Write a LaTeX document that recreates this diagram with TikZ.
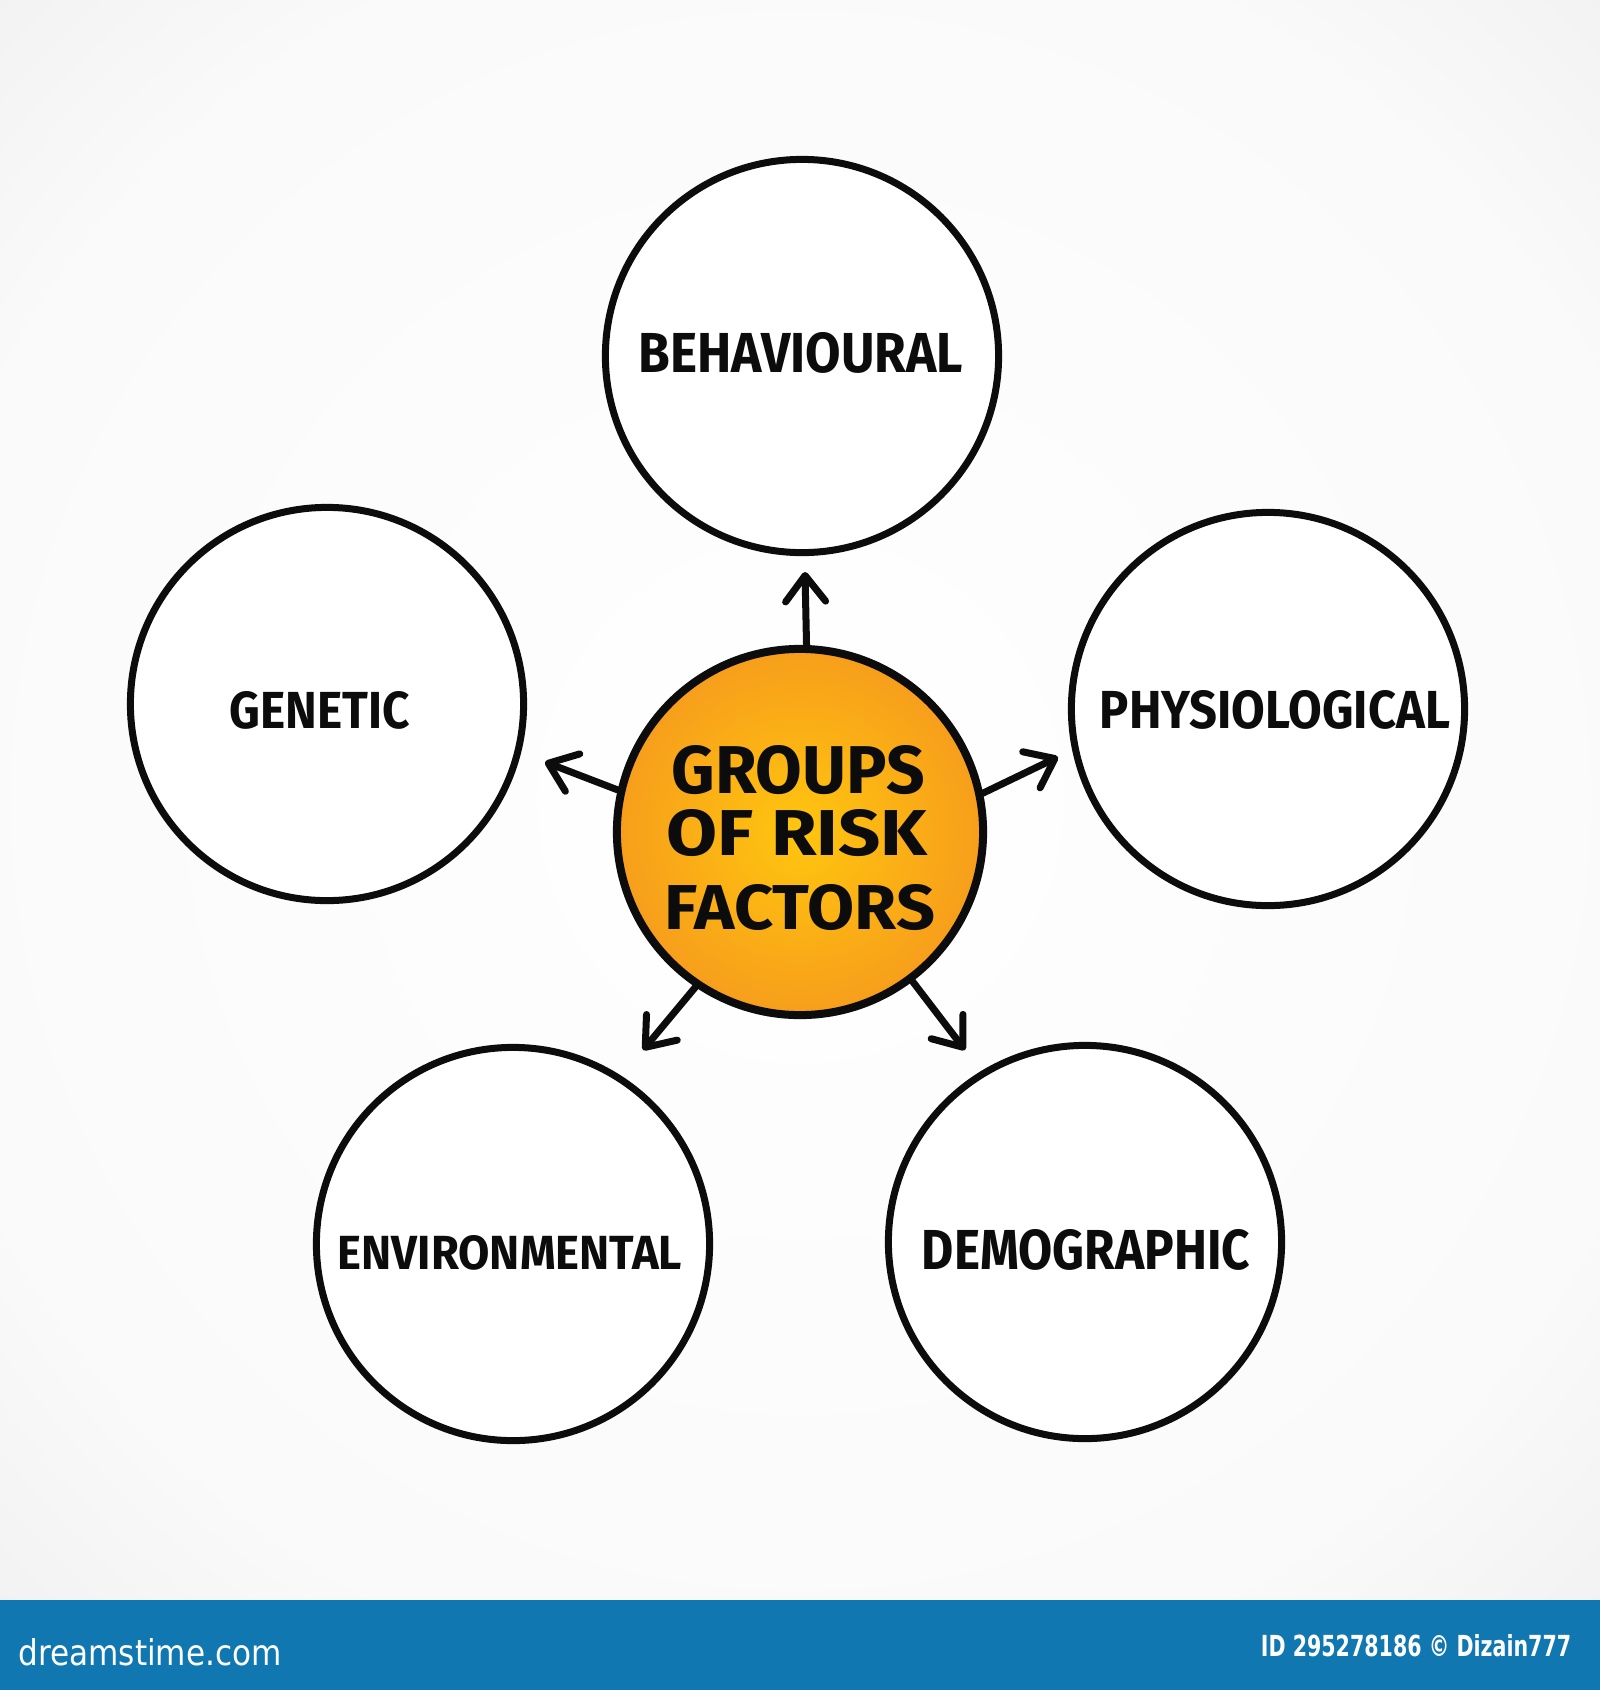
\documentclass[tikz,border=0pt]{standalone}
\usepackage{fontspec}
\newfontfamily\hand{Fira Sans}
\newfontfamily\wm{DejaVu Sans}
\usetikzlibrary{arrows.meta,shadings}
\definecolor{inkc}{RGB}{12,12,12}
\definecolor{sunin}{RGB}{255,198,14}
\definecolor{sunout}{RGB}{247,158,28}
\definecolor{band}{RGB}{17,119,176}
\pgfdeclareradialshading{bgshade}{\pgfpoint{0bp}{0bp}}{color(0bp)=(white); color(28bp)=(white!98!black); color(50bp)=(white!89!black)}
\newcommand{\lbl}[3]{\resizebox{#1cm}{#2cm}{\hand\bfseries #3}}
\begin{document}
\begin{tikzpicture}[x=0.01cm,y=-0.01cm,
  bubble/.style={circle,draw=inkc,line width=0.07cm,fill=white,minimum size=3.93cm,inner sep=0pt},
  core/.style={circle,draw=inkc,line width=0.08cm,inner color=sunin,outer color=sunout,minimum size=3.66cm,inner sep=0pt},
  txt/.style={inner sep=0pt,text=inkc},
  arr/.style={draw=inkc,line width=0.07cm,line cap=round,line join=round,-{Straight Barb[length=0.26cm,width=0.40cm,round]}},
  wmtext/.style={inner sep=0pt,text=white}
]
\useasboundingbox (0,0) rectangle (1600,1690);
\shade[shading=bgshade] (0,0) rectangle (1600,1600);
\fill[band] (0,1600) rectangle (1600,1690);

\node[bubble] (beh) at (802,356) {};
\node[bubble] (gen) at (327,704) {};
\node[bubble] (phy) at (1268,709) {};
\node[bubble] (env) at (513,1244) {};
\node[bubble] (dem) at (1085,1242) {};
\node[core] (core) at (800,832) {};

\node[txt] (tbeh) at (801,353) {\lbl{3.24}{0.40}{BEHAVIOURAL}};
\node[txt] (tgen) at (320,710) {\lbl{1.80}{0.37}{GENETIC}};
\node[txt] (tphy) at (1275,710) {\lbl{3.50}{0.38}{PHYSIOLOGICAL}};
\node[txt] (tenv) at (510,1253) {\lbl{3.44}{0.34}{ENVIRONMENTAL}};
\node[txt] (tdem) at (1086,1250) {\lbl{3.28}{0.40}{DEMOGRAPHIC}};

\node[txt] (c1) at (798,770) {\lbl{2.53}{0.48}{GROUPS}};
\node[txt] (c2) at (797,833) {\lbl{2.61}{0.46}{OF RISK}};
\node[txt] (c3) at (800,908) {\lbl{2.70}{0.45}{FACTORS}};

\coordinate (tipB) at (805,572);
\coordinate (tipG) at (545,762);
\coordinate (tipP) at (1058,757);
\coordinate (tipE) at (643,1050);
\coordinate (tipD) at (965,1050);

\draw[arr] (core.88.5) -- (tipB);
\draw[arr] (core.167.6) -- (tipG);
\draw[arr] (core.12.2) -- (tipP);
\draw[arr] (core.236) -- (tipE);
\draw[arr] (core.307) -- (tipD);

\node[wmtext] (ds) at (150,1652) {\resizebox{2.63cm}{0.27cm}{\wm dreamstime.com}};
\node[wmtext] (idt) at (1416,1646) {\resizebox{3.10cm}{0.22cm}{\wm\bfseries ID 295278186 © Dizain777}};
\end{tikzpicture}
\end{document}
